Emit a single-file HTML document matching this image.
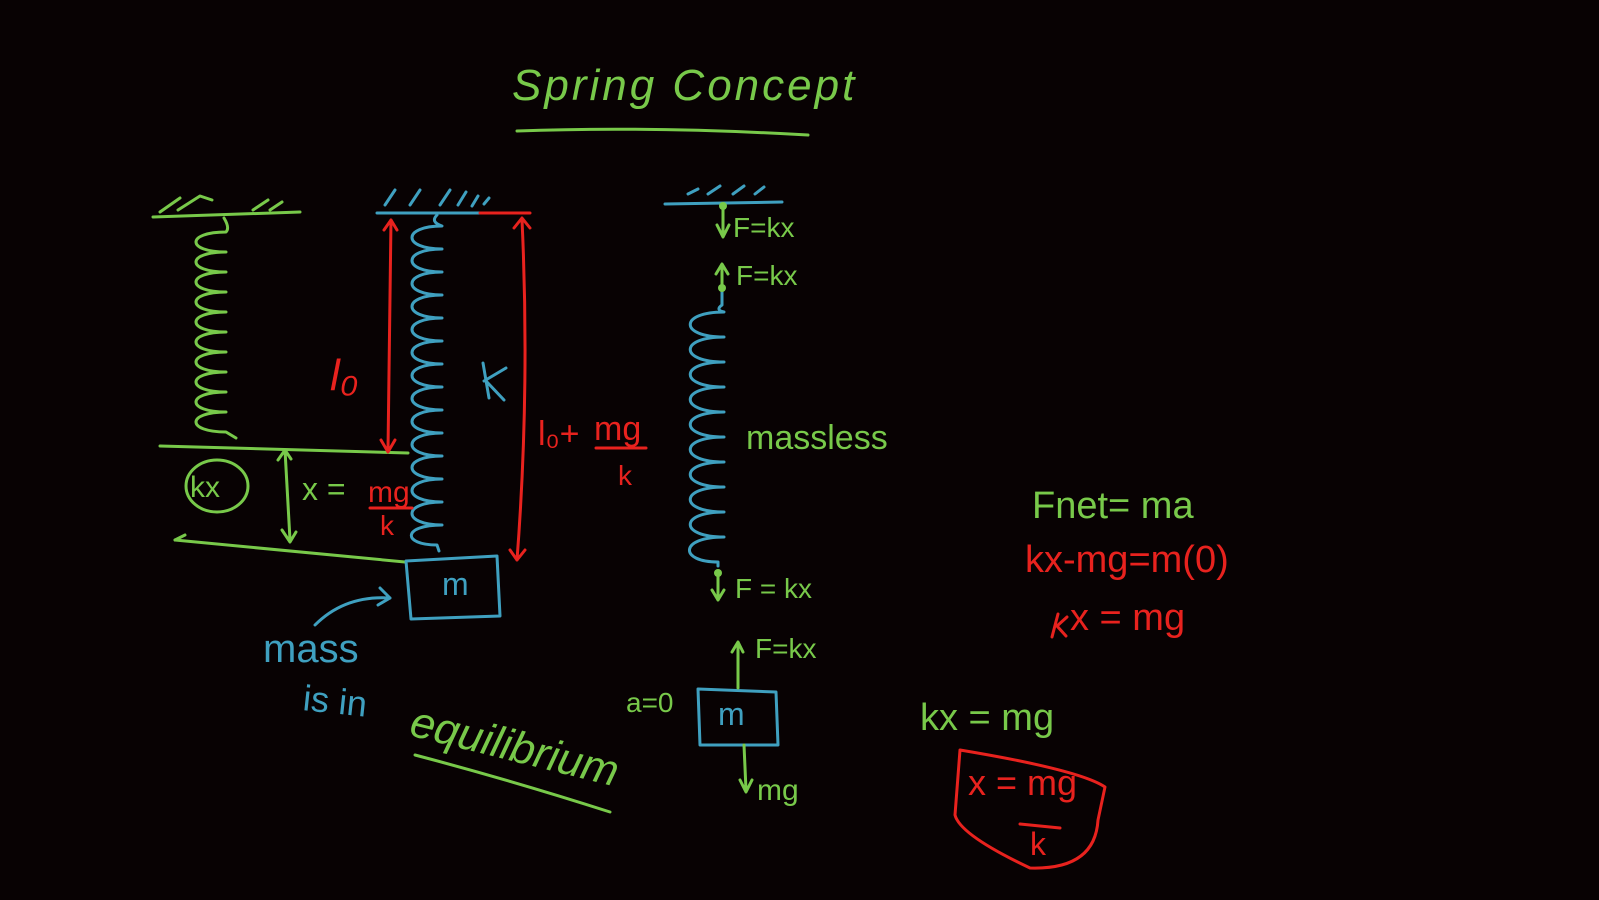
<!DOCTYPE html>
<html><head><meta charset="utf-8"><style>
html,body{margin:0;padding:0;background:#080203;}
svg{display:block}
text{font-family:"Liberation Sans",sans-serif;}
</style></head><body>
<svg width="1599" height="900" viewBox="0 0 1599 900" xmlns="http://www.w3.org/2000/svg">
<rect width="1599" height="900" fill="#080203"/>
<g fill="none" stroke-linecap="round" stroke-linejoin="round" stroke-width="3">
<path d="M517 131 Q650 126 808 135" stroke="#78c94a"/>
<g stroke="#78c94a">
<path d="M153 217 L300 212"/>
<path d="M160 212 L180 198 M178 210 L200 196 L212 200 M253 210 L268 200 M270 210 L282 202"/>
<path d="M224 218 Q230 228 226 232 c-40 0 -40 20 0 20 c-40 0 -40 20 0 20 c-40 0 -40 20 0 20 c-40 0 -40 20 0 20 c-40 0 -40 20 0 20 c-40 0 -40 20 0 20 c-40 0 -40 20 0 20 c-40 0 -40 20 0 20 c-40 0 -40 20 0 20 c-40 0 -40 20 0 20 l10 6"/>
<path d="M160 446 L408 453"/>
<path d="M175 540 L405 562"/>
<path d="M175 540 l10 -5"/>
<path d="M285 450 L290 540 M278 460 l7 -10 6 9 M282 530 l8 12 6 -10"/>
<ellipse cx="217" cy="486" rx="31" ry="26"/>
</g>
<g stroke="#3fa0c0">
<path d="M377 213 L480 213"/>
<path d="M385 205 L395 190 M410 205 L420 190 M440 205 L450 190 M458 205 L466 192 M472 206 L478 196 M484 204 L489 198"/>
<path d="M437 215 Q430 222 442 226 c-40 0 -40 23 0 23 c-40 0 -40 23 0 23 c-40 0 -40 23 0 23 c-40 0 -40 23 0 23 c-40 0 -40 23 0 23 c-40 0 -40 23 0 23 c-40 0 -40 23 0 23 c-40 0 -40 23 0 23 c-40 0 -40 23 0 23 c-40 0 -40 23 0 23 c-40 0 -40 23 0 23 c-40 0 -40 23 0 23 c-40 0 -40 23 0 23 c-40 0 -40 20 -5 20 l2 6"/>
<path d="M406 561 L497 556 L500 616 L411 619 Z"/>
<path d="M483 363 L489 398 M484 381 L506 368 M486 381 L504 400"/>
<path d="M315 625 Q345 595 390 598 M380 588 l10 10 -12 7"/>
</g>
<g stroke="#e8221e">
<path d="M480 213 L530 213"/>
<path d="M391 220 L388 450 M384 230 l7 -10 6 10 M381 440 l7 12 7 -12"/>
<path d="M522 220 Q530 390 517 560 M514 228 l8 -10 8 10 M510 550 l7 10 8 -10"/>
<path d="M370 508 L412 508"/>
<path d="M596 448 L646 448"/>
<path d="M1052 637 L1058 614 M1057 626 L1067 617 M1057 626 L1066 636"/>
<path d="M960 750 L955 815 Q960 835 1030 868 Q1095 870 1098 820 L1105 787 Q1080 770 960 750"/>
<path d="M1020 824 L1060 828"/>
</g>
<g stroke="#3fa0c0">
<path d="M665 204 L782 202"/>
<path d="M688 194 L698 189 M708 194 L720 186 M733 194 L744 186 M755 194 L764 187"/>
<path d="M722 292 L722 305 Q715 310 724 312 c-45 0 -45 25 0 25 c-45 0 -45 25 0 25 c-45 0 -45 25 0 25 c-45 0 -45 25 0 25 c-45 0 -45 25 0 25 c-45 0 -45 25 0 25 c-45 0 -45 25 0 25 c-45 0 -45 25 0 25 c-45 0 -45 25 0 25 c-45 0 -45 25 -6 25 l0 4"/>
<path d="M698 689 L776 692 L778 745 L700 745 Z"/>
</g>
<g stroke="#78c94a">
<path d="M723 207 L723 235 M717 225 l6 12 6 -12"/>
<path d="M722 288 L722 265 M716 274 l6 -10 6 10"/>
<path d="M718 575 L718 600 M712 590 l6 10 6 -10"/>
<path d="M738 688 L738 645 M732 652 l6 -10 5 10"/>
<path d="M744 745 L746 790 M740 780 l6 12 6 -12"/>
<path d="M415 755 Q510 780 610 812"/>
</g>
<g fill="#78c94a" stroke="none"><circle cx="723" cy="206" r="4"/><circle cx="722" cy="288" r="4"/><circle cx="718" cy="573" r="4"/></g>
</g>
<g fill="#78c94a">
<text x="512" y="100" font-size="44" font-style="italic" letter-spacing="3">Spring Concept</text>
<text x="190" y="497" font-size="30">kx</text>
<text x="302" y="500" font-size="32">x =</text>
<text x="733" y="237" font-size="28">F=kx</text>
<text x="736" y="285" font-size="28">F=kx</text>
<text x="746" y="449" font-size="34">massless</text>
<text x="735" y="598" font-size="28">F = kx</text>
<text x="755" y="658" font-size="28">F=kx</text>
<text x="626" y="712" font-size="28">a=0</text>
<text x="757" y="800" font-size="30">mg</text>
<text x="1032" y="518" font-size="38">Fnet= ma</text>
<text x="920" y="730" font-size="38">kx = mg</text>
<text x="408" y="735" font-size="44" font-style="italic" transform="rotate(14 408 735)">equilibrium</text>
</g>
<g fill="#3fa0c0">
<text x="442" y="595" font-size="32">m</text>
<text x="718" y="725" font-size="32">m</text>
<text x="263" y="662" font-size="40">mass</text>
<text x="302" y="710" font-size="36" transform="rotate(6 302 710)">is in</text>
</g>
<g fill="#e8221e">
<text x="330" y="390" font-size="44" font-style="italic">l₀</text>
<text x="368" y="502" font-size="30">mg</text>
<text x="380" y="535" font-size="28">k</text>
<text x="538" y="445" font-size="34">l₀+</text>
<text x="594" y="440" font-size="34">mg</text>
<text x="618" y="485" font-size="28">k</text>
<text x="1025" y="572" font-size="38">kx-mg=m(0)</text>
<text x="1070" y="630" font-size="38">x = mg</text>
<text x="968" y="795" font-size="36">x = mg</text>
<text x="1030" y="855" font-size="32">k</text>
</g>
</svg>
</body></html>
